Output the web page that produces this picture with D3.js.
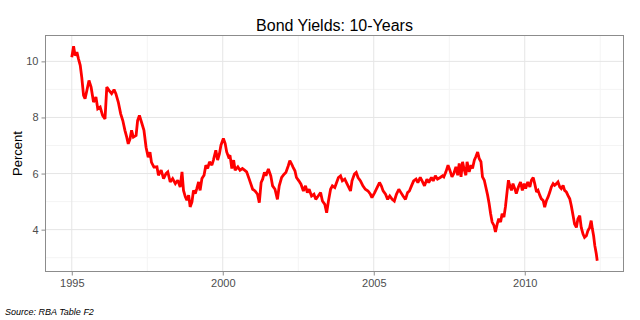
<!DOCTYPE html>
<html>
<head>
<meta charset="utf-8">
<script src="https://cdn.jsdelivr.net/npm/d3@7"></script>
<style>
  body { margin: 0; background: #fff; }
  svg { display: block; font-family: "Liberation Sans", Arial, sans-serif; }
</style>
</head>
<body>
<svg id="main-svg" width="640" height="320"></svg>
<script>
// 10 year bond yields (decimal year, percent)
const years = [
    1995.00, 1995.06, 1995.11, 1995.17, 1995.22, 1995.28, 1995.33, 1995.39, 1995.44, 1995.50,
    1995.57, 1995.64, 1995.72, 1995.80, 1995.86, 1995.94, 1996.02, 1996.10, 1996.16, 1996.24,
    1996.32, 1996.40, 1996.46, 1996.54, 1996.62, 1996.69, 1996.76, 1996.82, 1996.87, 1996.93,
    1996.98, 1997.04, 1997.13, 1997.18, 1997.24, 1997.31, 1997.39, 1997.46, 1997.53, 1997.59,
    1997.64, 1997.72, 1997.82, 1997.87, 1997.96, 1998.04, 1998.12, 1998.18, 1998.26, 1998.34,
    1998.43, 1998.51, 1998.59, 1998.65, 1998.70, 1998.76, 1998.81, 1998.87, 1998.92, 1998.98,
    1999.03, 1999.09, 1999.14, 1999.20, 1999.25, 1999.31, 1999.38, 1999.44, 1999.50, 1999.56,
    1999.64, 1999.69, 1999.77, 1999.83, 1999.89, 1999.94, 2000.02, 2000.08, 2000.13, 2000.19,
    2000.24, 2000.30, 2000.36, 2000.41, 2000.50, 2000.57, 2000.65, 2000.72, 2000.79, 2000.87,
    2000.99, 2001.07, 2001.15, 2001.21, 2001.27, 2001.32, 2001.38, 2001.43, 2001.51, 2001.59,
    2001.65, 2001.73, 2001.81, 2001.87, 2001.95, 2002.03, 2002.09, 2002.17, 2002.22, 2002.28,
    2002.33, 2002.39, 2002.44, 2002.52, 2002.59, 2002.67, 2002.74, 2002.80, 2002.86, 2002.94,
    2003.02, 2003.08, 2003.16, 2003.24, 2003.30, 2003.38, 2003.44, 2003.50, 2003.57, 2003.63,
    2003.71, 2003.77, 2003.83, 2003.90, 2003.96, 2004.04, 2004.12, 2004.23, 2004.28, 2004.36,
    2004.42, 2004.48, 2004.56, 2004.64, 2004.72, 2004.81, 2004.89, 2004.94, 2005.03, 2005.11,
    2005.19, 2005.25, 2005.31, 2005.39, 2005.46, 2005.53, 2005.61, 2005.68, 2005.75, 2005.83,
    2005.90, 2005.97, 2006.05, 2006.12, 2006.18, 2006.25, 2006.32, 2006.40, 2006.46, 2006.54,
    2006.60, 2006.68, 2006.76, 2006.82, 2006.91, 2006.97, 2007.04, 2007.11, 2007.20, 2007.28,
    2007.32, 2007.39, 2007.46, 2007.52, 2007.59, 2007.65, 2007.72, 2007.78, 2007.83, 2007.89,
    2007.94, 2008.00, 2008.05, 2008.09, 2008.16, 2008.22, 2008.27, 2008.33, 2008.38, 2008.44,
    2008.49, 2008.55, 2008.60, 2008.66, 2008.71, 2008.77, 2008.82, 2008.87, 2008.92, 2008.98,
    2009.03, 2009.09, 2009.14, 2009.20, 2009.25, 2009.31, 2009.36, 2009.42, 2009.46, 2009.50,
    2009.56, 2009.61, 2009.67, 2009.72, 2009.79, 2009.86, 2009.92, 2009.98, 2010.03, 2010.10,
    2010.17, 2010.22, 2010.28, 2010.33, 2010.39, 2010.44, 2010.50, 2010.55, 2010.61, 2010.66,
    2010.72, 2010.77, 2010.83, 2010.88, 2010.94, 2010.99, 2011.05, 2011.10, 2011.16, 2011.21,
    2011.27, 2011.32, 2011.38, 2011.43, 2011.49, 2011.54, 2011.60, 2011.65, 2011.71, 2011.76,
    2011.82, 2011.87, 2011.93, 2011.98, 2012.04, 2012.09, 2012.15, 2012.20, 2012.24, 2012.28,
    2012.32, 2012.37, 2012.40
];
const yields = [
    10.15, 10.54, 10.21, 10.33, 10.10, 9.86, 9.44, 8.79, 8.67, 8.96,
    9.32, 9.08, 8.55, 8.73, 8.31, 8.37, 8.07, 7.95, 9.08, 8.96,
    8.85, 8.99, 8.85, 8.55, 8.13, 7.89, 7.54, 7.30, 7.06, 7.24,
    7.54, 7.30, 7.36, 7.89, 8.07, 7.83, 7.54, 6.94, 6.58, 6.76,
    6.40, 6.23, 6.24, 5.94, 6.12, 5.82, 6.00, 6.06, 5.70, 5.82,
    5.64, 5.76, 5.52, 6.06, 5.40, 5.17, 5.05, 5.23, 4.81, 4.99,
    5.40, 5.29, 5.46, 5.70, 5.40, 5.82, 5.94, 6.30, 6.18, 6.42,
    6.30, 6.48, 6.83, 6.48, 6.71, 7.01, 7.25, 7.07, 6.77, 6.60,
    6.65, 6.18, 6.48, 6.12, 6.24, 6.12, 6.18, 6.12, 6.06, 5.82,
    5.44, 5.38, 5.26, 4.96, 5.68, 5.80, 6.04, 5.92, 6.16, 5.92,
    5.56, 5.44, 5.08, 5.56, 5.86, 5.98, 6.04, 6.28, 6.46, 6.34,
    6.22, 6.10, 5.86, 5.74, 5.62, 5.38, 5.56, 5.32, 5.44, 5.20,
    5.26, 5.08, 5.20, 5.32, 5.02, 4.90, 4.60, 5.02, 5.44, 5.56,
    5.50, 5.68, 5.86, 5.92, 5.74, 5.80, 5.62, 5.38, 5.74, 5.98,
    6.04, 5.86, 5.74, 5.56, 5.44, 5.38, 5.26, 5.14, 5.32, 5.50,
    5.68, 5.56, 5.38, 5.26, 5.08, 5.20, 5.08, 5.02, 5.26, 5.44,
    5.32, 5.20, 5.08, 5.32, 5.38, 5.56, 5.74, 5.80, 5.68, 5.86,
    5.74, 5.56, 5.80, 5.68, 5.86, 5.74, 5.92, 5.80, 5.86, 5.92,
    5.88, 6.06, 6.30, 6.12, 5.88, 6.00, 6.24, 5.94, 6.36, 5.88,
    6.42, 6.12, 5.94, 6.42, 6.06, 6.30, 6.18, 6.48, 6.60, 6.77,
    6.54, 6.42, 5.88, 5.76, 5.52, 5.23, 4.93, 4.57, 4.27, 4.15,
    3.92, 4.21, 4.39, 4.27, 4.57, 4.45, 4.81, 5.40, 5.76, 5.58,
    5.40, 5.64, 5.46, 5.29, 5.52, 5.70, 5.40, 5.64, 5.46, 5.70,
    5.52, 5.76, 5.86, 5.64, 5.34, 5.40, 5.22, 5.10, 5.04, 4.80,
    5.04, 5.16, 5.34, 5.52, 5.64, 5.58, 5.64, 5.70, 5.52, 5.46,
    5.58, 5.40, 5.34, 5.22, 5.10, 4.86, 4.50, 4.20, 4.08, 4.38,
    4.50, 4.08, 3.84, 3.72, 3.78, 3.96, 4.08, 4.32, 4.02, 3.78,
    3.43, 3.13, 2.89
];
const xTicks = [1995, 2000, 2005, 2010];
const xMinor = [1997.5, 2002.5, 2007.5, 2012.5];
const yTicks = [4, 6, 8, 10];
const yMinor = [3, 5, 7, 9];

const svg = d3.select("#main-svg");
const panel = { left: 45.5, right: 623.5, top: 35.5, bottom: 271.5 };

// ggplot style 5% padding round the data
function expand(ext) {
    const pad = (ext[1] - ext[0]) * 0.05;
    return [ext[0] - pad, ext[1] + pad];
}

const escalaX = d3.scaleLinear()
    .domain(expand(d3.extent(years)))
    .range([panel.left, panel.right]);
const escalaY = d3.scaleLinear()
    .domain(expand(d3.extent(yields)))
    .range([panel.bottom, panel.top]);

svg.append("rect")
    .attr("x", panel.left).attr("y", panel.top)
    .attr("width", panel.right - panel.left)
    .attr("height", panel.bottom - panel.top)
    .attr("fill", "#fff");

// minor grid
svg.append("g").selectAll("line").data(xMinor).join("line")
    .attr("x1", d => escalaX(d)).attr("x2", d => escalaX(d))
    .attr("y1", panel.top).attr("y2", panel.bottom)
    .attr("stroke", "#f4f4f4").attr("stroke-width", 1);
svg.append("g").selectAll("line").data(yMinor).join("line")
    .attr("x1", panel.left).attr("x2", panel.right)
    .attr("y1", d => escalaY(d)).attr("y2", d => escalaY(d))
    .attr("stroke", "#f4f4f4").attr("stroke-width", 1);

// major grid
svg.append("g").selectAll("line").data(xTicks).join("line")
    .attr("x1", d => escalaX(d)).attr("x2", d => escalaX(d))
    .attr("y1", panel.top).attr("y2", panel.bottom)
    .attr("stroke", "#e5e5e5").attr("stroke-width", 1);
svg.append("g").selectAll("line").data(yTicks).join("line")
    .attr("x1", panel.left).attr("x2", panel.right)
    .attr("y1", d => escalaY(d)).attr("y2", d => escalaY(d))
    .attr("stroke", "#e5e5e5").attr("stroke-width", 1);

const linea = d3.line()
    .x((d, i) => escalaX(years[i]))
    .y(d => escalaY(d));

svg.append("path")
    .datum(yields)
    .attr("d", linea)
    .attr("fill", "none")
    .attr("stroke", "#ff0000")
    .attr("stroke-width", 2.8)
    .attr("stroke-linejoin", "miter")
    .attr("stroke-miterlimit", 2);

svg.append("rect")
    .attr("x", panel.left).attr("y", panel.top)
    .attr("width", panel.right - panel.left)
    .attr("height", panel.bottom - panel.top)
    .attr("fill", "none")
    .attr("stroke", "#8c8c8c");

// axes
const ejeY = svg.append("g")
    .attr("transform", `translate(${panel.left}, 0)`)
    .call(d3.axisLeft(escalaY).tickValues(yTicks).tickSize(4).tickPadding(3));
const ejeX = svg.append("g")
    .attr("transform", `translate(0, ${panel.bottom})`)
    .call(d3.axisBottom(escalaX).tickValues(xTicks).tickFormat(d3.format("d")).tickSize(4).tickPadding(4));

[ejeY, ejeX].forEach(eje => {
    eje.select(".domain").remove();
    eje.selectAll(".tick line").attr("stroke", "#8c8c8c");
    eje.selectAll(".tick text")
        .attr("fill", "#4d4d4d")
        .style("font-family", "'Liberation Sans', Arial, sans-serif")
        .style("font-size", "11px");
});

svg.append("text")
    .text("Bond Yields: 10-Years")
    .attr("x", (panel.left + panel.right) / 2)
    .attr("y", 31)
    .attr("text-anchor", "middle")
    .attr("font-size", 16)
    .attr("fill", "#000");

svg.append("text")
    .text("Percent")
    .attr("transform", `translate(22, ${(panel.top + panel.bottom) / 2}) rotate(-90)`)
    .attr("text-anchor", "middle")
    .attr("font-size", 13)
    .attr("fill", "#000");

svg.append("text")
    .text("Source: RBA Table F2")
    .attr("x", 5)
    .attr("y", 315)
    .attr("font-size", 9)
    .attr("font-style", "italic")
    .attr("fill", "#000");
</script>
</body>
</html>
